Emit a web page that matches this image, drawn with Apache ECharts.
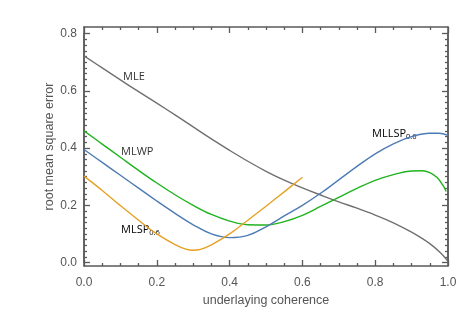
<!DOCTYPE html>
<html>
<head>
<meta charset="utf-8">
<script src="https://cdn.jsdelivr.net/npm/echarts@6/dist/echarts.min.js"></script>
<style>html,body{margin:0;padding:0;background:#fff}#c{width:474px;height:322px}</style>
</head>
<body>
<div id="c"></div>
<script>
// ---- data ----
var xTicks = [0, 0.2, 0.4, 0.6, 0.8, 1.0];
var yTicks = [0, 0.2, 0.4, 0.6, 0.8];
var mleX = [0, 0.05, 0.1, 0.15, 0.2, 0.25, 0.3, 0.35, 0.4, 0.45, 0.5, 0.55, 0.6, 0.65, 0.7, 0.75, 0.8, 0.85, 0.9, 0.95, 0.98, 1.0];
var mleY = [0.722, 0.68, 0.638, 0.597, 0.557, 0.516, 0.474, 0.432, 0.392, 0.354, 0.319, 0.288, 0.261, 0.236, 0.212, 0.19, 0.166, 0.139, 0.106, 0.066, 0.033, 0.004];
var mlwpX = [0, 0.05, 0.1, 0.15, 0.2, 0.25, 0.3, 0.35, 0.4, 0.45, 0.5, 0.55, 0.6, 0.65, 0.7, 0.75, 0.8, 0.85, 0.9, 0.93, 0.95, 0.97, 0.985, 0.995];
var mlwpY = [0.46, 0.414, 0.368, 0.322, 0.278, 0.237, 0.2, 0.168, 0.145, 0.132, 0.131, 0.143, 0.165, 0.196, 0.228, 0.259, 0.287, 0.307, 0.32, 0.321, 0.314, 0.297, 0.272, 0.248];
var mllspX = [0, 0.05, 0.1, 0.15, 0.2, 0.25, 0.3, 0.35, 0.4, 0.45, 0.5, 0.55, 0.6, 0.65, 0.7, 0.75, 0.8, 0.85, 0.9, 0.95, 0.975, 1.0];
var mllspY = [0.395, 0.35, 0.305, 0.26, 0.215, 0.172, 0.132, 0.1, 0.087, 0.095, 0.125, 0.163, 0.2, 0.242, 0.289, 0.336, 0.38, 0.415, 0.44, 0.452, 0.452, 0.444];
var mlspX = [0, 0.05, 0.1, 0.15, 0.2, 0.25, 0.28, 0.3, 0.32, 0.35, 0.4, 0.45, 0.5, 0.55, 0.6];
var mlspY = [0.302, 0.252, 0.199, 0.148, 0.1, 0.063, 0.047, 0.043, 0.046, 0.062, 0.1, 0.148, 0.197, 0.247, 0.298];

function pairs(xs, ys) { return xs.map(function (x, i) { return [x, ys[i]]; }); }

var yMin = -0.012, yMax = 0.823;
var axisCol = '#5a5a5a';
var labelCol = '#555';
var box = { left: 84, right: 26, top: 27, bottom: 56 };
var boxH = 322 - box.top - box.bottom;
var topIn = box.top + (yMax - 0.8) / (yMax - yMin) * boxH;
var botIn = box.bottom + (0 - yMin) / (yMax - yMin) * boxH;

var fmt = function (v) { return v.toFixed(1); };
var tickFont = { color: labelCol, fontFamily: 'Liberation Sans', fontSize: 12 };
var tickLine = { color: axisCol, width: 1.3 };

function xAx(pos, showLabel) {
  return {
    type: 'value', gridIndex: 0, position: pos, min: 0, max: 1, interval: 0.2,
    axisLine: { show: true, onZero: false, lineStyle: { color: axisCol, width: 1.5 } },
    axisTick: { show: true, inside: true, length: 6, lineStyle: tickLine },
    minorTick: { show: true, splitNumber: 4, length: 3, lineStyle: tickLine },
    axisLabel: showLabel ? Object.assign({ show: true, margin: 11, formatter: fmt }, tickFont) : { show: false },
    splitLine: { show: false }, minorSplitLine: { show: false }
  };
}
function boxY(pos) {
  return {
    type: 'value', gridIndex: 0, position: pos, min: yMin, max: yMax,
    axisLine: { show: true, onZero: false, lineStyle: { color: axisCol, width: 1.5 } },
    axisTick: { show: false }, axisLabel: { show: false }, splitLine: { show: false }
  };
}
function tickY(pos, showLabel) {
  return {
    type: 'value', gridIndex: 1, position: pos, min: yTicks[0], max: yTicks[yTicks.length - 1], interval: 0.2,
    axisLine: { show: true, onZero: false, lineStyle: { color: axisCol, width: 1.5 } },
    axisTick: { show: true, inside: true, length: 6, lineStyle: tickLine },
    minorTick: { show: true, splitNumber: 10, length: 3, lineStyle: tickLine },
    axisLabel: showLabel ? Object.assign({ show: true, margin: 7, formatter: fmt }, tickFont) : { show: false },
    splitLine: { show: false }, minorSplitLine: { show: false }
  };
}

var xa0 = xAx('bottom', true);
xa0.name = 'underlaying coherence';
xa0.nameLocation = 'middle';
xa0.nameGap = 27;
xa0.nameTextStyle = { color: labelCol, fontFamily: 'Liberation Sans', fontSize: 12.5 };
var ya0 = boxY('left');
ya0.name = 'root mean square error';
ya0.nameLocation = 'middle';
ya0.nameGap = 28;
ya0.nameTextStyle = { color: labelCol, fontFamily: 'Liberation Sans', fontSize: 12.5 };

function line(name, xs, ys, color) {
  return { name: name, type: 'line', xAxisIndex: 0, yAxisIndex: 0, data: pairs(xs, ys), smooth: 0.4,
    showSymbol: false, lineStyle: { color: color, width: 1.4 }, itemStyle: { color: color }, animation: false };
}

var sub = { a: { fontFamily: 'Open Sans', fontSize: 11, color: '#333' }, b: { fontFamily: 'Open Sans', fontSize: 7.5, color: '#666', padding: [7, 0, 0, 0] } };
function txt(left, top, str) {
  return { type: 'text', left: left, top: top, style: { text: str, fontFamily: 'Open Sans', fontSize: 11, fill: '#333' } };
}

var chart = echarts.init(document.getElementById('c'), null, { renderer: 'canvas' });
chart.setOption({
  animation: false,
  backgroundColor: '#fff',
  grid: [
    { left: box.left, right: box.right, top: box.top, bottom: box.bottom, containLabel: false },
    { left: box.left, right: box.right, top: topIn, bottom: botIn, containLabel: false }
  ],
  xAxis: [xa0, xAx('top', false),
    { type: 'value', gridIndex: 1, min: 0, max: 1, show: false }],
  yAxis: [ya0, boxY('right'), tickY('left', true), tickY('right', false)],
  series: [
    line('MLE', mleX, mleY, '#707070'),
    line('MLWP', mlwpX, mlwpY, '#1fb31f'),
    line('MLLSP', mllspX, mllspY, '#4d7bb4'),
    line('MLSP', mlspX, mlspY, '#e5a125')
  ],
  graphic: [
    txt(123, 71, 'MLE'),
    txt(121, 146, 'MLWP'),
    { type: 'text', left: 121, top: 224, style: { text: '{a|MLSP}{b|0.6}', rich: sub } },
    { type: 'text', left: 372, top: 128, style: { text: '{a|MLLSP}{b|0.6}', rich: sub } }
  ]
});
</script>
</body>
</html>
